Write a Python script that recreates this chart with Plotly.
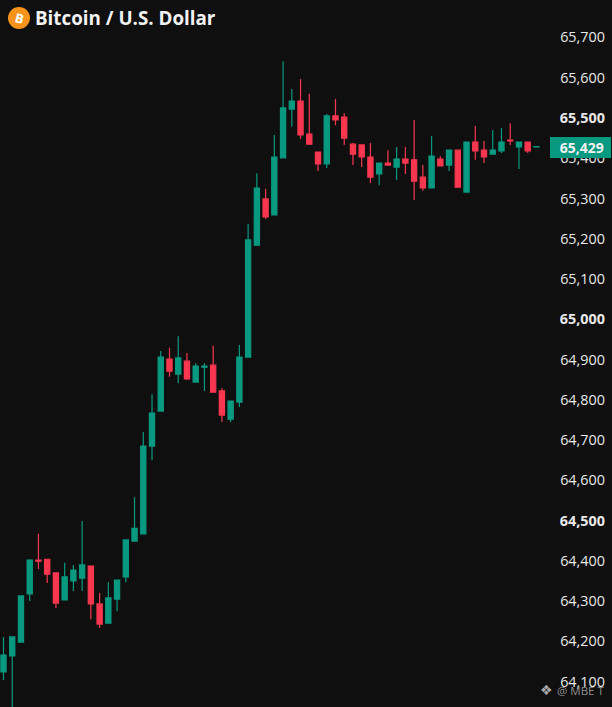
import plotly.graph_objects as go

# BTC/USD candles, values
bar_index = list(range(62))
opens = [64124, 64164, 64198, 64318, 64402, 64404, 64370, 64303, 64350, 64357,
         64387, 64293, 64245, 64305, 64360, 64449, 64467, 64685, 64772, 64901,
         64864, 64896, 64844, 64881, 64886, 64822, 64752, 64794, 64906, 65184,
         65299, 65259, 65401, 65522, 65542, 65460, 65415, 65386, 65505, 65502,
         65435, 65433, 65403, 65361, 65388, 65378, 65398, 65396, 65353, 65326,
         65398, 65383, 65420, 65316, 65440, 65420, 65410, 65418, 65445, 65428,
         65440, 65428]
highs = [64211, 64211, 64313, 64404, 64467, 64404, 64370, 64395, 64390, 64499,
         64387, 64320, 64347, 64352, 64452, 64558, 64720, 64814, 64921, 64929,
         64958, 64916, 64891, 64891, 64934, 64829, 64797, 64936, 65237, 65363,
         65324, 65458, 65641, 65572, 65597, 65560, 65415, 65510, 65547, 65512,
         65438, 65433, 65438, 65388, 65420, 65428, 65428, 65495, 65383, 65455,
         65405, 65420, 65420, 65440, 65480, 65443, 65470, 65475, 65487, 65440,
         65440, 65429]
lows = [64104, 64037, 64198, 64300, 64380, 64345, 64283, 64303, 64325, 64325,
        64255, 64233, 64245, 64275, 64347, 64449, 64467, 64650, 64772, 64857,
        64842, 64849, 64844, 64822, 64819, 64745, 64745, 64782, 64906, 65184,
        65249, 65259, 65401, 65478, 65448, 65435, 65368, 65376, 65482, 65433,
        65383, 65378, 65338, 65333, 65383, 65346, 65361, 65296, 65319, 65326,
        65381, 65368, 65328, 65316, 65396, 65388, 65410, 65413, 65433, 65373,
        65413, 65428]
closes = [64166, 64211, 64313, 64402, 64399, 64367, 64295, 64360, 64377, 64390,
          64293, 64243, 64308, 64352, 64452, 64481, 64685, 64767, 64906, 64871,
          64904, 64852, 64884, 64884, 64819, 64762, 64797, 64906, 65197, 65326,
          65254, 65403, 65525, 65542, 65458, 65435, 65386, 65505, 65495, 65450,
          65410, 65403, 65353, 65388, 65383, 65398, 65388, 65343, 65326, 65405,
          65381, 65420, 65328, 65440, 65418, 65403, 65420, 65440, 65443, 65440,
          65418, 65429]

tick_values = [65700, 65600, 65500, 65400, 65300, 65200, 65100, 65000,
               64900, 64800, 64700, 64600, 64500, 64400, 64300, 64200, 64100]
tick_labels = ["65,700", "65,600", "<b>65,500</b>", "65,400", "65,300", "65,200",
               "65,100", "<b>65,000</b>", "64,900", "64,800", "64,700", "64,600",
               "<b>64,500</b>", "64,400", "64,300", "64,200", "64,100"]
last_price = 65429

UP = "#089981"
DOWN = "#F7374F"
BG = "#0F0F0F"
FONT = "Open Sans"

fig = go.Figure()
fig.add_trace(go.Candlestick(
    x=bar_index, open=opens, high=highs, low=lows, close=closes,
    increasing=dict(line=dict(color=UP, width=1.2), fillcolor=UP),
    decreasing=dict(line=dict(color=DOWN, width=1.2), fillcolor=DOWN),
    whiskerwidth=0,
    showlegend=False,
))

# coin icon
fig.add_shape(type="circle", xref="paper", yref="paper",
              x0=8 / 612, x1=30 / 612, y0=1 - 29 / 707, y1=1 - 7 / 707,
              fillcolor="#F7931A", line=dict(width=0))
fig.add_annotation(text="<b>B</b>", xref="paper", yref="paper",
                   x=19 / 612, y=1 - 18 / 707, yanchor="middle", xanchor="center",
                   showarrow=False, textangle=14,
                   font=dict(family=FONT, size=13, color="#FFFFFF"))
fig.add_annotation(text="<b>Bitcoin / U.S. Dollar</b>", xref="paper", yref="paper",
                   x=33 / 612, y=1 - 18 / 707, xanchor="left", yanchor="middle",
                   showarrow=False,
                   font=dict(family=FONT, size=18.8, color="#F2F2F2"))

# last price tag
fig.add_annotation(text="<b>65,429</b>&nbsp;&nbsp;", xref="paper", yref="y",
                   x=611 / 612, y=last_price, xanchor="right", yanchor="middle",
                   showarrow=False, align="right", yshift=-1,
                   width=61, height=21, bgcolor=UP, borderpad=0, borderwidth=0,
                   font=dict(family=FONT, size=14, color="#F2F2F2"))

# watermark
fig.add_annotation(text="❖", xref="paper", yref="paper",
                   x=546 / 612, y=1 - 690 / 707, xanchor="center", yanchor="middle",
                   showarrow=False,
                   font=dict(family="DejaVu Sans", size=14, color="#A8A8A8"))
fig.add_annotation(text="@ MBE T", xref="paper", yref="paper",
                   x=555 / 612, y=1 - 690 / 707, xanchor="left", yanchor="middle",
                   showarrow=False,
                   font=dict(family=FONT, size=11.5, color="#8C8C8C"))

fig.update_layout(
    width=612, height=707,
    margin=dict(l=0, r=0, t=0, b=0),
    paper_bgcolor=BG, plot_bgcolor=BG,
    boxgap=0.15,
    xaxis=dict(range=[-0.4, 69.65], visible=False, rangeslider=dict(visible=False),
               showgrid=False, zeroline=False),
    yaxis=dict(range=[64037, 65793], side="right", ticklabelposition="inside",
               tickmode="array", tickvals=tick_values, ticktext=tick_labels,
               showgrid=False, zeroline=False, ticks="", ticklabelstandoff=4,
               tickfont=dict(family=FONT, size=14.4, color="#E8E8E8")),
    hovermode=False,
)

# page margin would push the chart off the window
fig.write_html("out.html", config={"displayModeBar": False},
               post_script="document.body.style.margin = '0';")
